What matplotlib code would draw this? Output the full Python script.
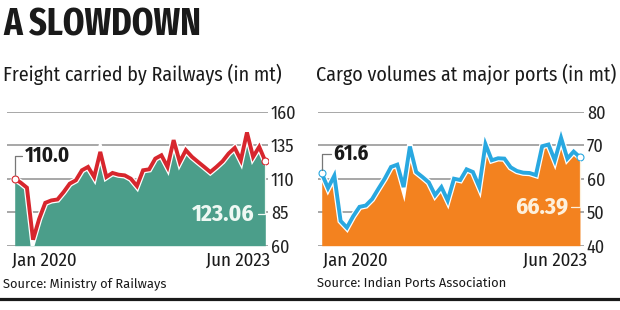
import matplotlib
matplotlib.use("Agg")
import matplotlib.pyplot as plt
import matplotlib.patheffects as pe
from matplotlib.lines import Line2D

plt.rcParams['font.family'] = ['Fira Sans Condensed', 'DejaVu Sans']

# Monthly values, Jan 2020 .. Jun 2023
rail = [110.0, 107.0, 103.3, 64.5, 80.0, 92.0, 93.8, 94.5, 100.0, 106.3,
        108.8, 116.3, 118.8, 111.3, 130.0, 111.3, 114.3, 113.0, 112.5, 110.0,
        104.5, 116.3, 117.0, 125.0, 127.5, 118.8, 138.8, 122.5, 131.3, 126.3,
        122.5, 118.8, 115.0, 118.8, 123.0, 128.8, 133.0, 123.8, 144.5, 126.3,
        133.8, 123.06]
ports = [61.6, 57.2, 60.9, 47.4, 45.4, 48.8, 51.6, 52.0, 53.9, 57.0,
         60.0, 63.5, 64.2, 57.5, 69.6, 62.0, 60.5, 58.9, 55.1, 57.5,
         53.5, 60.0, 59.6, 62.8, 62.0, 57.6, 70.3, 65.5, 66.1, 66.0,
         63.4, 62.3, 61.8, 61.7, 61.1, 69.7, 70.2, 65.5, 72.2, 66.0,
         68.1, 66.39]
months = list(range(len(rail)))

rail_ticks = [60, 85, 110, 135, 160]
port_ticks = [40, 50, 60, 70, 80]

fig = plt.figure(figsize=(6.2, 3.1), dpi=100)
fig.patch.set_facecolor('white')

W, H = 620, 310


def panel(rect, xlim, values, ticks, area_col, line_col, first_lbl, last_lbl,
          last_col, first_off, last_off):
    ax = fig.add_axes(rect)
    ax.fill_between(months, values, ticks[0], color=area_col, lw=0, zorder=2)
    ax.plot(months, values, color=line_col, lw=2.8, zorder=3,
            solid_joinstyle='miter',
            path_effects=[pe.Stroke(linewidth=4.6, foreground='white'), pe.Normal()])
    ax.plot([months[0], months[-1]], [values[0], values[-1]], 'o', ms=5,
            mfc='white', mec=line_col, mew=0.8, zorder=4)
    ax.set_xlim(*xlim)
    ax.set_ylim(ticks[0], ticks[-1])
    ax.set_yticks(ticks)
    ax.set_yticklabels([str(t) for t in ticks])
    for lbl in ax.get_yticklabels():
        lbl.set_verticalalignment('bottom')
    ax.yaxis.tick_right()
    ax.tick_params(axis='y', length=0, pad=2, labelsize=13, labelcolor='#222222')
    ax.set_xticks([])
    ax.grid(axis='y', color='#8f8f8f', lw=1.1, zorder=1)
    ax.set_axisbelow(True)
    for s in ax.spines.values():
        s.set_visible(False)

    ax.annotate(first_lbl, xy=(months[0], values[0]), xytext=first_off,
                textcoords='offset points', ha='left', va='center',
                fontsize=15, fontweight='bold', color='#1a1a1a', zorder=5,
                arrowprops=dict(arrowstyle='-', color='#777777', lw=0.9,
                                shrinkA=0, shrinkB=2.5, relpos=(0, 0.5),
                                connectionstyle='angle,angleA=0,angleB=90,rad=0'))
    ax.annotate(last_lbl, xy=(months[-1], values[-1]), xytext=last_off,
                textcoords='offset points', ha='right', va='center',
                fontsize=17, fontweight='bold', color=last_col, zorder=5,
                arrowprops=dict(arrowstyle='-', color=last_col, lw=0.9,
                                shrinkA=0, shrinkB=2.5, relpos=(1, 0.5),
                                connectionstyle='angle,angleA=0,angleB=90,rad=0'))
    ax.text(0.02, -0.045, 'Jan 2020', transform=ax.transAxes, ha='left', va='top',
            fontsize=13.5, color='#1a1a1a')
    ax.text(1.01, -0.045, 'Jun 2023', transform=ax.transAxes, ha='right', va='top',
            fontsize=13.5, color='#1a1a1a')
    return ax


bottom = (H - 245.7) / H
height = 134 / H
panel([7 / W, bottom, 261 / W, height], (-1.26, 41.44), rail, rail_ticks,
      '#4b9e8a', '#d7262d', '110.0', '123.06', '#eef8f3', (7.5, 16.5), (-7.5, -38))
panel([318 / W, bottom, 266 / W, height], (-0.59, 41.64), ports, port_ticks,
      '#f3821f', '#29a8e0', '61.6', '66.39', '#fdf0dc', (8.5, 14), (-8.5, -36))

fig.text(3 / W, 1 - 36 / H, 'A SLOWDOWN', fontsize=27, fontweight='bold',
         family=['Fira Sans Extra Condensed', 'Fira Sans Condensed'],
         color='#1a1a1a', ha='left', va='baseline')
fig.text(3 / W, 1 - 81 / H, 'Freight carried by Railways (in mt)', fontsize=14.4,
         color='#1a1a1a', ha='left', va='baseline')
fig.text(316 / W, 1 - 81 / H, 'Cargo volumes at major ports (in mt)', fontsize=14.4,
         color='#1a1a1a', ha='left', va='baseline')
fig.text(3 / W, 1 - 287 / H, 'Source: Ministry of Railways', fontsize=9.3,
         family='Fira Sans', color='#1a1a1a', ha='left', va='baseline')
fig.text(317 / W, 1 - 287 / H, 'Source: Indian Ports Association', fontsize=9.3,
         family='Fira Sans', color='#1a1a1a', ha='left', va='baseline')
fig.add_artist(Line2D([0, 1], [1 - 298.5 / H, 1 - 298.5 / H], color='#1a1a1a',
                      lw=2.3, transform=fig.transFigure))

fig.savefig('out.png', dpi=100, facecolor='white')
